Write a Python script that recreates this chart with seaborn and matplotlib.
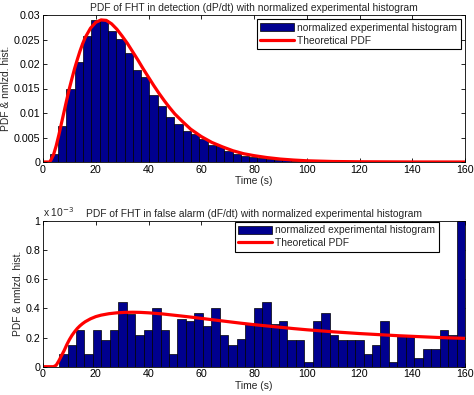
import numpy as np
import pandas as pd
import matplotlib
matplotlib.use("Agg")
import matplotlib.pyplot as plt
import seaborn as sns
from matplotlib.patches import Patch
from matplotlib.lines import Line2D
from matplotlib.ticker import FuncFormatter, MultipleLocator

# ---------------- data ----------------
# Top: detection histogram (50 bins) and theoretical PDF
det_bin_start = 2.6
det_bin_end = 160.0
det_hist = [0.0016, 0.0074, 0.0149, 0.0205, 0.0258, 0.0290, 0.0290, 0.0268, 0.0252, 0.0222,
            0.0188, 0.0174, 0.0137, 0.0114, 0.0091, 0.0078, 0.0064, 0.0057, 0.0046, 0.0034,
            0.0033, 0.0022, 0.0017, 0.0013, 0.0010, 0.0008, 0.0006, 0.0005, 0.0004, 0.0003,
            0.0002, 0.0002, 0.0001, 0.0001, 0.0, 0.0, 0.0, 0.0, 0.0, 0.0,
            0.0, 0.0, 0.0, 0.0, 0.0, 0.0, 0.0, 0.0, 0.0, 0.0]
det_pdf_t = [0, 2.5, 3, 4, 5, 6, 7, 8, 9, 10, 11, 12, 13, 14, 15, 16, 18, 20, 22, 24, 26, 28, 30,
             32, 34, 36, 38, 40, 42, 44, 46, 48, 50, 53, 56, 60, 64, 68, 72, 76, 80, 85, 90, 95,
             100, 110, 120, 140, 160]
det_pdf_v = [0, 0, 0.0004, 0.0015, 0.0033, 0.0055, 0.0079, 0.0103, 0.0127, 0.0150, 0.0171, 0.0191,
             0.0209, 0.0226, 0.0241, 0.0254, 0.0273, 0.0285, 0.0290, 0.0289, 0.0282, 0.0271, 0.0257,
             0.0242, 0.0225, 0.0208, 0.0190, 0.0173, 0.0156, 0.0140, 0.0125, 0.0111, 0.0098, 0.0082,
             0.0067, 0.0052, 0.0040, 0.0031, 0.0023, 0.0017, 0.0013, 0.0009, 0.0006, 0.0004,
             0.00025, 0.0001, 0.00005, 0.00001, 0.0]

# Bottom: false alarm histogram (48 bins), values in units of 1e-3
fa_bin_start = 6.1
fa_bin_end = 160.0
fa_hist = [0.087, 0.15, 0.25, 0.09, 0.25, 0.18, 0.25, 0.44, 0.36, 0.22,
           0.25, 0.40, 0.25, 0.09, 0.33, 0.31, 0.37, 0.28, 0.40, 0.22,
           0.15, 0.19, 0.30, 0.40, 0.44, 0.29, 0.31, 0.18, 0.18, 0.03,
           0.31, 0.37, 0.22, 0.18, 0.18, 0.18, 0.09, 0.15, 0.31, 0.03,
           0.21, 0.21, 0.06, 0.12, 0.12, 0.25, 0.22, 1.0]
fa_pdf_t = [0, 4, 5, 6, 7, 8, 9, 10, 11, 12, 13, 14, 15, 16, 18, 20, 22, 25, 28, 31, 34, 37, 40,
            45, 50, 55, 60, 65, 70, 75, 80, 85, 90, 95, 100, 105, 110, 115, 120, 125, 130, 135,
            140, 145, 150, 155, 160]
fa_pdf_v = [0, 0, 0.01, 0.04, 0.075, 0.11, 0.15, 0.185, 0.215, 0.24, 0.262, 0.28, 0.295, 0.308,
            0.328, 0.343, 0.353, 0.363, 0.369, 0.372, 0.373, 0.372, 0.369, 0.362, 0.352, 0.342,
            0.331, 0.32, 0.309, 0.298, 0.288, 0.279, 0.27, 0.261, 0.253, 0.246, 0.239, 0.233,
            0.227, 0.222, 0.217, 0.212, 0.208, 0.204, 0.2, 0.197, 0.194]
fa_scale = 1e-3

titles = ["PDF of FHT in detection (dP/dt) with normalized experimental histogram",
          "PDF of FHT in false alarm (dF/dt) with normalized experimental histogram"]
legend_labels = ["normalized experimental histogram", "Theoretical PDF"]
ylabel = "PDF & nmlzd. hist."
xlabel = "Time (s)"

# ---------------- style ----------------
sns.set_theme(style="white")
plt.rcParams['font.family'] = ['Liberation Sans', 'DejaVu Sans']
BAR = "#00008F"
RED = "#FF0000"
FS = 7.4

fig = plt.figure(figsize=(4.74, 3.95), dpi=100)
ax1 = fig.add_axes([43/474, 1-162/395, 422/474, 147/395])
ax2 = fig.add_axes([43/474, 1-366.7/395, 422/474, 146/395])


def draw(ax, start, end, heights, t, v, scale):
    n = len(heights)
    edges = np.linspace(start, end, n + 1)
    hist_df = pd.DataFrame({"c": (edges[:-1] + edges[1:]) / 2,
                            "w": np.asarray(heights, dtype=float) * scale})
    sns.histplot(data=hist_df, x="c", weights="w", bins=list(edges), stat="count", ax=ax,
                 color=BAR, edgecolor="black", linewidth=0.5, alpha=1.0)
    df = pd.DataFrame({"t": t, "v": np.asarray(v, dtype=float) * scale})
    sns.lineplot(data=df, x="t", y="v", ax=ax, color=RED, linewidth=2.3,
                 sort=False, estimator=None)


draw(ax1, det_bin_start, det_bin_end, det_hist, det_pdf_t, det_pdf_v, 1.0)
draw(ax2, fa_bin_start, fa_bin_end, fa_hist, fa_pdf_t, fa_pdf_v, fa_scale)

ax1.set_ylim(0, 0.03)
ax1.yaxis.set_major_locator(MultipleLocator(0.005))
ax1.yaxis.set_major_formatter(FuncFormatter(lambda v, p: "%g" % round(v, 4)))
ax2.set_ylim(0, 1e-3)
ax2.yaxis.set_major_locator(MultipleLocator(0.2e-3))
ax2.yaxis.set_major_formatter(FuncFormatter(lambda v, p: "%g" % round(v / fa_scale, 3)))
ax2.text(0.0, 1.015, r"x 10$^{-3}$", transform=ax2.transAxes, ha="left", va="bottom",
         fontsize=FS)

for ax, title, anchor in [(ax1, titles[0], (0.9905, 0.973)), (ax2, titles[1], (0.938, 0.993))]:
    ax.set_xlim(0, 160)
    ax.xaxis.set_major_locator(MultipleLocator(20))
    ax.set_title(title, fontsize=FS, pad=3)
    ax.set_xlabel(xlabel, fontsize=FS, labelpad=1)
    ax.set_ylabel(ylabel, fontsize=FS, labelpad=2)
    ax.tick_params(direction="in", length=3, width=0.6, labelsize=FS + 0.3, pad=2,
                   top=True, right=True, bottom=True, left=True, colors="black")
    for s in ax.spines.values():
        s.set_color("black")
        s.set_linewidth(0.6)
    handles = [Patch(facecolor=BAR, edgecolor="black", linewidth=0.5),
               Line2D([0], [0], color=RED, linewidth=2.3)]
    leg = ax.legend(handles, legend_labels, loc="upper right", bbox_to_anchor=anchor,
                    borderaxespad=0, fontsize=FS, handlelength=3.3, handleheight=0.9,
                    handletextpad=0.3, labelspacing=0.3, borderpad=0.35,
                    fancybox=False, framealpha=1, edgecolor="black")
    leg.get_frame().set_linewidth(0.8)

fig.savefig("out.png", dpi=100)
